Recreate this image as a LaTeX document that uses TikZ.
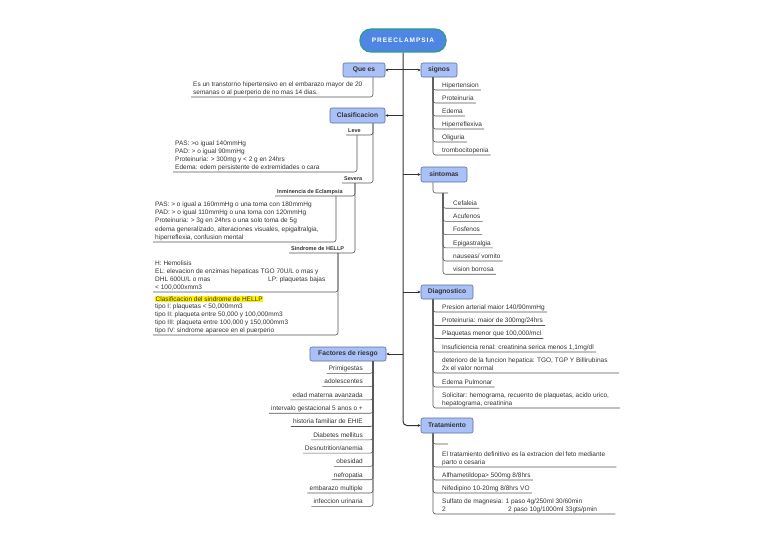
\documentclass[tikz,border=0pt]{standalone}
\usepackage{fontspec}
\setmainfont{Liberation Sans}
\newfontfamily\rootfont[LetterSpace=15]{Liberation Sans}
\usetikzlibrary{arrows.meta}
\definecolor{txt}{HTML}{333333}
\definecolor{boxfill}{HTML}{A9C1F7}
\definecolor{boxdraw}{HTML}{5B6E9E}
\definecolor{rootfill}{HTML}{4F86E3}
\definecolor{rootdraw}{HTML}{2F9C86}
\definecolor{trunk}{HTML}{333333}
\definecolor{brc}{HTML}{555555}
\setlength{\fboxsep}{0.5pt}
\begin{document}
\begin{tikzpicture}[x=1pt,y=-1pt,
 topic/.style={draw=boxdraw, fill=boxfill, rounded corners=2pt, line width=0.6pt, font=\fontsize{6.7}{8}\selectfont\bfseries, text=txt, inner sep=0pt, minimum height=14pt},
 leaf/.style={font=\fontsize{6.5}{7.8}\selectfont, text=txt, inner xsep=2pt, inner ysep=1pt, text depth=1.5pt, align=left},
 lw/.style={leaf, anchor=south west},
 le/.style={leaf, anchor=south east, align=right},
 sub/.style={font=\fontsize{5.5}{7}\selectfont\bfseries, text=txt, inner xsep=2pt, inner ysep=1pt, text depth=1.5pt, anchor=south west},
 tr/.style={draw=trunk, line width=1pt},
 arr/.style={tr, -{Stealth[length=3pt,width=3pt]}},
 br/.style={draw=brc, line width=0.6pt, rounded corners=2.5pt},
]
\useasboundingbox (0,0) rectangle (768,543);

% root and main topics
\node[draw=rootdraw, fill=rootfill, line width=1.2pt, rounded corners=11pt, minimum width=86pt, minimum height=23pt, inner sep=0pt, text=white, font=\rootfont\fontsize{6.5}{8}\selectfont\bfseries] (root) at (403,40.5) {PREECLAMPSIA};

\node[topic, minimum width=42pt] (que) at (364,70) {Que es};
\node[topic, minimum width=36pt] (sig) at (439,70) {signos};
\node[topic, minimum width=55pt, minimum height=15pt] (clas) at (357.5,115.5) {Clasificacion};
\node[topic, minimum width=46pt, minimum height=15pt] (sin) at (444,174.5) {sintomas};
\node[topic, minimum width=52pt] (diag) at (447,292) {Diagnostico};
\node[topic, minimum width=76pt] (fac) at (348,354) {Factores de riesgo};
\node[topic, minimum width=52pt, minimum height=15pt] (trat) at (447,425.5) {Tratamiento};

\draw[tr, rounded corners=4pt, -{Stealth[length=3pt,width=3pt]}] (root.south) |- (trat.west);
\draw[arr] (root.south |- que.east) -- (que.east);
\draw[arr] (root.south |- sig.west) -- (sig.west);
\draw[arr] (root.south |- clas.east) -- (clas.east);
\draw[arr] (root.south |- sin.west) -- (sin.west);
\draw[arr] (root.south |- diag.west) -- (diag.west);
\draw[arr] (root.south |- fac.east) -- (fac.east);

% Que es
\node[lw] (q1) at (191,97) {Es un transtorno hipertensivo en el embarazo mayor de 20\\semanas o al puerperio de no mas 14 dias.};
\draw[br] ([xshift=9pt]que.south) |- (q1.south west);

% signos
\foreach \t [count=\i] in {Hipertension, Proteinuria, Edema, Hiperreflexiva, Oliguria, trombocitopenia} {
  \node[lw] (s\i) at (440,77+13*\i) {\t};
  \draw[br] ([xshift=-6pt]sig.south) |- (s\i.south east);
}

% sintomas
\coordinate (sinHub) at (448,193);
\draw[br] ([xshift=-11pt]sin.south) |- (sinHub);
\foreach \t [count=\i] in {Cefaleia, Acufenos, Fosfenos, Epigastralgia, nauseas/ vomito, vision borrosa} {
  \node[lw] (c\i) at (451,195+13.2*\i) {\t};
  \draw[br] ([xshift=-5pt]sinHub) |- (c\i.south east);
}

% Diagnostico
\node[lw] (d1) at (440,312) {Presion arterial maior 140/90mmHg};
\node[lw] (d2) at (440,325.5) {Proteinuria: maior de 300mg/24hrs};
\node[lw] (d3) at (440,338.5) {Plaquetas menor que 100,000/mcl};
\node[lw] (d4) at (440,352) {Insuficiencia renal: creatinina serica menos 1,1mg/dl};
\node[lw] (d5) at (440,373) {deterioro de la funcion hepatica: TGO, TGP Y Billirubinas\\2x el valor normal};
\node[lw] (d6) at (440,387) {Edema Pulmonar};
\node[lw] (d7) at (440,408) {Solicitar: hemograma, recuento de plaquetas, acido urico,\\hepatograma, creatinina};
\foreach \i in {1,2,3,4,6} { \draw[br] ([xshift=-14pt]diag.south) |- (d\i.south east); }
\draw[br] ([xshift=-14pt]diag.south) |- ([xshift=9pt]d5.south east);
\draw[br] ([xshift=-14pt]diag.south) |- ([xshift=9pt]d7.south east);

% Tratamiento
\coordinate (tHub) at (448,444);
\draw[br] ([xshift=-14pt]trat.south) |- (tHub);
\node[lw] (t1) at (440,467) {El tratamiento definitivo es la extracion del feto mediante\\parto o cesaria};
\node[lw] (t2) at (440,480) {Alfhametildopa> 500mg 8/8hrs};
\node[lw] (t3) at (440,493) {Nifedipino 10-20mg 8/8hrs VO};
\node[lw] (t4) at (440,514) {Sulfato de magnesia: 1 paso 4g/250ml 30/60min\\\makebox[66pt][l]{2}2 paso 10g/1000ml 33gts/pmin};
\foreach \i in {2,3} { \draw[br] ([xshift=-14pt]trat.south) |- (t\i.south east); }
\draw[br] ([xshift=-14pt]trat.south) |- ([xshift=9pt]t1.south east);
\draw[br] ([xshift=-14pt]trat.south) |- ([xshift=16pt]t4.south east);

% Factores de riesgo
\foreach \t [count=\i] in {Primigestas, adolescentes, edad materna avanzada, intervalo gestacional 5 anos o +, historia familiar de EHIE, Diabetes mellitus, Desnutrition/anemia, obesidad, nefropatia, embarazo multiple, infeccion urinaria} {
  \node[le] (f\i) at (365,360+13.3*\i) {\t};
  \draw[br] ([xshift=25pt]fac.south) |- (f\i.south west);
}

% Clasificacion
\node[sub] (leve) at (346,135) {Leve};
\draw[br] ([xshift=15.5pt]clas.south) |- (leve.south west);
\node[lw] (leveB) at (173,172) {PAS: >o igual 140mmHg\\PAD: > o igual 90mmHg\\Proteinuria: > 300mg y < 2 g en 24hrs\\Edema: edem persistente de extremidades o cara};
\draw[br] ([xshift=11pt]leve.south west) |- (leveB.south west);

\node[sub] (sev) at (342,183) {Severa};
\draw[br] ([xshift=15.5pt]clas.south) |- (sev.south west);

\node[sub] (inm) at (275,196) {Inminencia de Eclampsia};
\draw[br] ([xshift=13pt]sev.south west) |- (inm.south west);
\node[lw, font=\fontsize{6.5}{8.2}\selectfont] (inmB) at (153,242) {PAS: > o igual a 160mmHg o una toma con 180mmHg\\PAD: > o igual 110mmHg o una toma con 120mmHg\\Proteinuria: > 3g en 24hrs o una solo toma de 5g\\edema generalizado, alteraciones visuales, epigaltralgia,\\hiperreflexia, confusion mental};
\draw[br] ([xshift=61pt]inm.south west) |- (inmB.south west);

\node[sub] (hel) at (289,253) {Sindrome de HELLP};
\draw[br] ([xshift=13pt]sev.south west) |- (hel.south west);
\node[lw] (helB) at (153,292) {H: Hemolisis\\EL: elevacion de enzimas hepaticas TGO 70U/L o mas y\\\makebox[113pt][l]{DHL 600U/L o mas}LP: plaquetas bajas\\< 100,000xmm3};
\draw[br] ([xshift=49pt]hel.south west) |- (helB.south west);
\node[lw] (helC) at (153,335) {\colorbox{yellow}{Clasificacion del sindrome de HELLP}\\tipo I: plaquetas < 50,000mm3\\tipo II: plaqueta entre 50,000 y 100,000mm3\\tipo III: plaqueta entre 100,000 y 150,000mm3\\tipo IV: sindrome aparece en el puerperio};
\draw[br] ([xshift=49pt]hel.south west) |- (helC.south west);
\end{tikzpicture}
\end{document}
